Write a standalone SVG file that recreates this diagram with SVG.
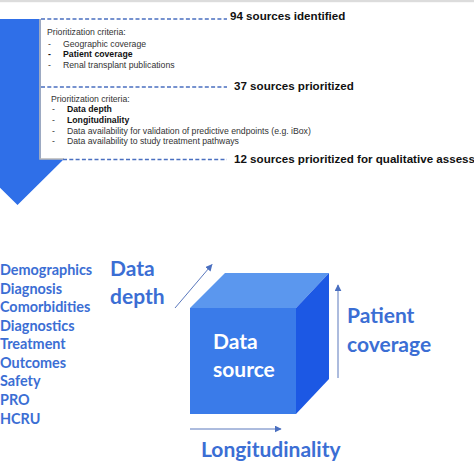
<svg xmlns="http://www.w3.org/2000/svg" width="474" height="474" viewBox="0 0 474 474">
<defs>
<style>
.crit{font-family:"Liberation Sans",Arial,sans-serif;font-size:8.7px;fill:#333}
.critb{font-family:"Liberation Sans",Arial,sans-serif;font-size:8.7px;fill:#111;font-weight:bold}
.head{font-family:"Liberation Sans",Arial,sans-serif;font-size:11.6px;font-weight:bold;fill:#111}
.dash{stroke:#4a6fc0;stroke-width:1.4;stroke-dasharray:4 2.3;fill:none}
.lst{font-family:Lato,"Open Sans",sans-serif;font-size:14.4px;font-weight:700;fill:#3b6ed4}
.lbl{font-family:Lato,"Open Sans",sans-serif;font-size:21px;font-weight:700;fill:#3b6ed4}
.wlbl{font-family:Lato,"Open Sans",sans-serif;font-size:21px;font-weight:700;fill:#ffffff}
.ax{stroke:#5a78bd;stroke-width:1;fill:none}
</style>
<marker id="ah" viewBox="0 0 10 10" refX="9" refY="5" markerWidth="7" markerHeight="7" markerUnits="userSpaceOnUse" orient="auto">
<path d="M0,0 L10,5 L0,10 z" fill="#4a6fc0"/>
</marker>
</defs>
<rect x="0" y="0" width="474" height="474" fill="#ffffff"/>
<rect x="0" y="0" width="474" height="2.2" fill="#dcdcdc"/>

<g id="funnel-arrow">
<path d="M-6,19 L41,19 L41,159 L64,159 L17.5,205 L-29,159 L-6,159 z" fill="#2f6fe8"/>
</g>

<g id="criteria-box">
<path d="M40,19 L40,159 L64,159" stroke="#b8b8b8" stroke-width="1.6" fill="none"/>
<rect x="41" y="19" width="440" height="139" fill="#ffffff"/>
</g>

<g id="connectors">
<line class="dash" x1="41" y1="19" x2="227" y2="19"/>
<line class="dash" x1="41" y1="87" x2="227" y2="87"/>
<line class="dash" x1="63" y1="159.5" x2="227" y2="159.5"/>
<line class="ax" x1="175" y1="308" x2="212" y2="264.5" marker-end="url(#ah)" stroke="#7d90b8"/>
<line class="ax" x1="338" y1="378" x2="338" y2="285" marker-end="url(#ah)"/>
<line class="ax" x1="190" y1="429" x2="281" y2="429" marker-end="url(#ah)"/>
</g>

<g id="stage1">
<text class="head" x="230" y="19.5">94 sources identified</text>
<text class="crit" x="47" y="35">Prioritization criteria:</text>
<text class="crit" x="48" y="46.5">-</text><text class="crit" x="63" y="46.5">Geographic coverage</text>
<text class="critb" x="48" y="57.3">-</text><text class="critb" x="63" y="57.3">Patient coverage</text>
<text class="crit" x="48" y="68">-</text><text class="crit" x="63" y="68">Renal transplant publications</text>
</g>

<g id="stage2">
<text class="head" x="234" y="90">37 sources prioritized</text>
<text class="crit" x="51" y="101.5">Prioritization criteria:</text>
<text class="crit" x="52" y="112.3">-</text><text class="critb" x="67" y="112.3">Data depth</text>
<text class="crit" x="52" y="122.8">-</text><text class="critb" x="67" y="122.8">Longitudinality</text>
<text class="crit" x="52" y="133.5">-</text><text class="crit" x="67" y="133.5">Data availability for validation of predictive endpoints (e.g. iBox)</text>
<text class="crit" x="52" y="144.2">-</text><text class="crit" x="67" y="144.2">Data availability to study treatment pathways</text>
</g>

<g id="stage3">
<text class="head" x="234" y="163.3">12 sources prioritized for qualitative assess</text>
</g>

<g id="data-list">
<text class="lst" x="0" y="275">Demographics</text>
<text class="lst" x="0" y="293.5">Diagnosis</text>
<text class="lst" x="0" y="312">Comorbidities</text>
<text class="lst" x="0" y="330.5">Diagnostics</text>
<text class="lst" x="0" y="349">Treatment</text>
<text class="lst" x="0" y="367.7">Outcomes</text>
<text class="lst" x="0" y="386.3">Safety</text>
<text class="lst" x="0" y="405">PRO</text>
<text class="lst" x="0" y="423.5">HCRU</text>
</g>

<g id="cube">
<path d="M190,308 L225,273 L329,273 L296,308 z" fill="#5b97ee"/>
<path d="M296,308 L329,273 L329,379 L296,414 z" fill="#1c58e4"/>
<rect x="190" y="308" width="106" height="106" fill="#3a7be9"/>
<text class="wlbl" x="213" y="349">Data</text>
<text class="wlbl" x="213" y="377">source</text>
</g>

<g id="label-depth">
<text class="lbl" x="110" y="276">Data</text>
<text class="lbl" x="110" y="304">depth</text>
</g>
<g id="label-patient">
<text class="lbl" x="347" y="323">Patient</text>
<text class="lbl" x="347" y="352">coverage</text>
</g>
<g id="label-long">
<text class="lbl" x="201" y="457">Longitudinality</text>
</g>
</svg>
